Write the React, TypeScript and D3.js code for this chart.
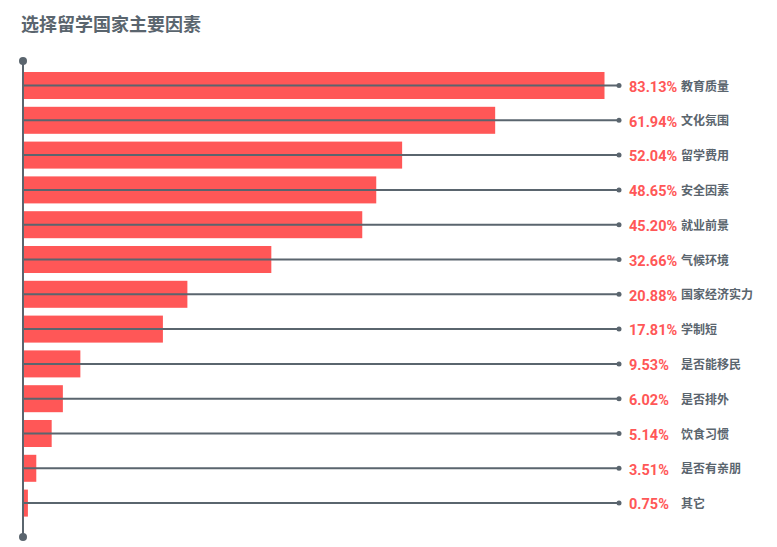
import { useEffect, useRef } from 'react';
import * as d3 from 'd3';

const title = '选择留学国家主要因素';

const categories = [
  '教育质量', '文化氛围', '留学费用', '安全因素', '就业前景', '气候环境',
  '国家经济实力', '学制短', '是否能移民', '是否排外', '饮食习惯', '是否有亲朋', '其它',
];

// labels printed next to each row
const percentLabels = [
  '83.13%', '61.94%', '52.04%', '48.65%', '45.20%', '32.66%',
  '20.88%', '17.81%', '9.53%', '6.02%', '5.14%', '3.51%', '0.75%',
];

// bar lengths as drawn in the picture (same units as the top bar)
const barValues = [83.13, 67.5, 54.2, 50.5, 48.5, 35.5, 23.5, 20.0, 8.2, 5.7, 4.1, 1.9, 0.7];

const W = 777;
const H = 547;

export default function App() {
  const svgRef = useRef<SVGSVGElement>(null);

  useEffect(() => {
    if (!svgRef.current) return;
    const svg = d3.select(svgRef.current);
    svg.selectAll('*').remove();

    const dark = '#5a656e';
    const red = '#ff5757';
    const axisX = 23;
    const lineEnd = 619;

    const x = d3.scaleLinear().domain([0, 83.13]).range([axisX, 604.5]);
    const y = d3.scaleBand<string>()
      .domain(categories)
      .range([68.1, 520.5])
      .paddingInner(0.224)
      .paddingOuter(0.112);

    svg.append('text')
      .attr('x', 21)
      .attr('y', 31)
      .attr('font-family', '"Noto Sans CJK SC", sans-serif')
      .attr('font-weight', 'bold')
      .attr('font-size', 18)
      .attr('fill', dark)
      .text(title);

    const row = svg.selectAll('g.row')
      .data(categories)
      .join('g')
      .attr('class', 'row');

    row.append('rect')
      .attr('x', axisX)
      .attr('y', d => y(d)!)
      .attr('width', (d, i) => x(barValues[i]) - axisX)
      .attr('height', y.bandwidth())
      .attr('fill', red);

    row.append('line')
      .attr('x1', axisX)
      .attr('x2', lineEnd)
      .attr('y1', d => y(d)! + y.bandwidth() / 2)
      .attr('y2', d => y(d)! + y.bandwidth() / 2)
      .attr('stroke', dark)
      .attr('stroke-width', 2);

    row.append('circle')
      .attr('cx', lineEnd)
      .attr('cy', d => y(d)! + y.bandwidth() / 2)
      .attr('r', 2.5)
      .attr('fill', dark);

    row.append('text')
      .attr('x', 629)
      .attr('y', d => y(d)! + y.bandwidth() / 2)
      .attr('dy', '0.43em')
      .attr('font-family', 'Roboto, sans-serif')
      .attr('font-weight', 'bold')
      .attr('font-size', 14.5)
      .attr('fill', red)
      .text((d, i) => percentLabels[i]);

    row.append('text')
      .attr('x', 681)
      .attr('y', d => y(d)! + y.bandwidth() / 2)
      .attr('dy', '0.42em')
      .attr('font-family', '"Noto Sans CJK SC", sans-serif')
      .attr('font-weight', 'bold')
      .attr('font-size', 12)
      .attr('fill', dark)
      .text(d => d);

    // vertical axis with end dots
    svg.append('line')
      .attr('x1', axisX)
      .attr('x2', axisX)
      .attr('y1', 61)
      .attr('y2', 537)
      .attr('stroke', dark)
      .attr('stroke-width', 2);

    svg.selectAll('circle.end')
      .data([61, 537])
      .join('circle')
      .attr('class', 'end')
      .attr('cx', axisX)
      .attr('cy', d => d)
      .attr('r', 4)
      .attr('fill', dark);
  }, []);

  return (
    <div style={{ position: 'absolute', left: 0, top: 0, background: '#fff' }}>
      <svg ref={svgRef} width={W} height={H} />
    </div>
  );
}
